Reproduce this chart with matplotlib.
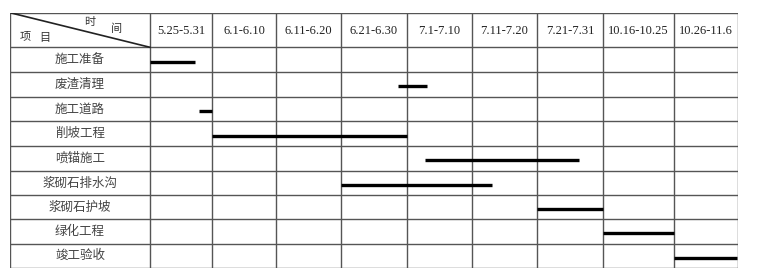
import numpy as np
import matplotlib
matplotlib.use("Agg")
import matplotlib.pyplot as plt

# ---- data ----
periods = ["5.25-5.31", "6.1-6.10", "6.11-6.20", "6.21-6.30", "7.1-7.10",
           "7.11-7.20", "7.21-7.31", "10.16-10.25", "10.26-11.6"]
tasks = ["施工准备", "废渣清理", "施工道路", "削坡工程", "喷锚施工",
         "浆砌石排水沟", "浆砌石护坡", "绿化工程", "竣工验收"]
# start / end in period-column units (0 = start of first period)
task_start = [0.0, 3.86, 0.79, 1.0, 4.27, 3.0, 6.0, 7.0, 8.0]
task_end = [0.73, 4.30, 1.0, 4.0, 6.64, 5.30, 7.0, 8.0, 8.98]

# ---- layout (pixel edges of the table grid) ----
W, H = 760, 277
col_px = np.array([10, 150, 212, 276, 341, 407, 472, 537, 603, 674, 738], float)
row_px = np.array([12.7, 47.3, 72, 96.7, 121.3, 146.3, 170.7, 195.3, 219.3, 243.7, 268], float)
col_idx = np.arange(-1, len(periods) + 0.5)
row_idx = np.arange(-1, len(tasks) + 0.5)

def fx(v):
    return np.interp(v, col_idx, col_px)

def fx_inv(v):
    return np.interp(v, col_px, col_idx)

def fy(v):
    return np.interp(v, row_idx, row_px)

def fy_inv(v):
    return np.interp(v, row_px, row_idx)

fig = plt.figure(figsize=(W / 100, H / 100), dpi=100)
ax = fig.add_axes([col_px[0] / W, 1 - row_px[-1] / H,
                   (col_px[-1] - col_px[0]) / W, (row_px[-1] - row_px[0]) / H])
ax.set_xscale("function", functions=(fx, fx_inv))
ax.set_yscale("function", functions=(fy, fy_inv))
ax.set_xlim(-1, len(periods))
ax.set_ylim(len(tasks), -1)
ax.axis("off")

grid_c = "#555555"
for x in col_idx:
    ax.plot([x, x], [-1, len(tasks)], color=grid_c, lw=1.0, solid_capstyle="butt")
for y in row_idx:
    ax.plot([-1, len(periods)], [y, y], color=grid_c, lw=1.0, solid_capstyle="butt")

# diagonal in header cell
ax.plot([-1, 0], [-1, 0], color="#222222", lw=1.2)

cjk = ["Noto Sans CJK SC", "DejaVu Sans"]
ax.text(-0.89, -0.31, "项", family=cjk, fontsize=8, ha="center", va="center", color="#333333")
ax.text(-0.75, -0.26, "目", family=cjk, fontsize=8, ha="center", va="center", color="#333333")
ax.text(-0.43, -0.74, "时", family=cjk, fontsize=8, ha="center", va="center", color="#333333")
ax.text(-0.24, -0.53, "间", family=cjk, fontsize=8, ha="center", va="center", color="#333333")

for i, p in enumerate(periods):
    ax.text(i + 0.5, -0.48, p, family="Liberation Serif", fontsize=9,
            ha="center", va="center", color="#222222")

for i, t in enumerate(tasks):
    ax.text(-0.5, i + 0.5, t, family=cjk, fontsize=9, ha="center", va="center",
            color="#444444")

for i, (s, e) in enumerate(zip(task_start, task_end)):
    ax.plot([s, e], [i + 0.58, i + 0.58], color="black", lw=2.4, solid_capstyle="butt")

fig.savefig("out.png", dpi=100, facecolor="white")
